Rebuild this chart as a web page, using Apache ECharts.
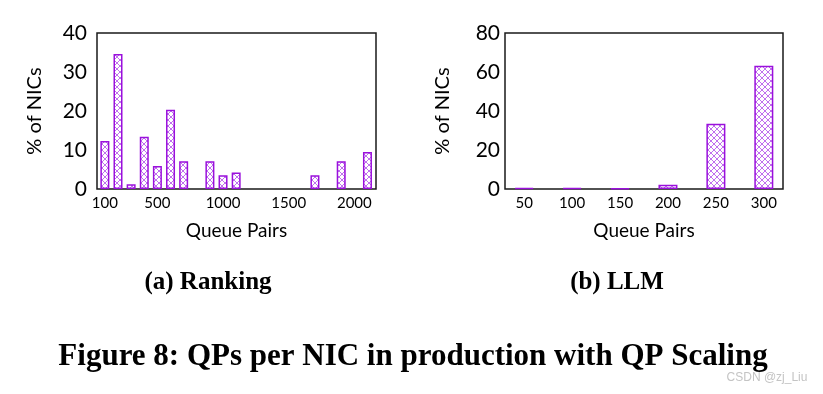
<!DOCTYPE html>
<html>
<head>
<meta charset="utf-8">
<script src="https://cdn.jsdelivr.net/npm/echarts@6/dist/echarts.min.js"></script>
<style>
html,body{margin:0;padding:0;background:#fff;}
#c{width:823px;height:394px;}
</style>
</head>
<body>
<div id="c"></div>
<script>
// Data
const rankingQP = [100, 200, 300, 400, 500, 600, 700, 900, 1000, 1100, 1700, 1900, 2100];
const rankingPct = [12.3, 34.6, 1.2, 13.4, 5.9, 20.3, 7.1, 7.1, 3.5, 4.2, 3.5, 7.1, 9.5];
const rankingTicks = [100, 500, 1000, 1500, 2000];
const llmQP = [50, 100, 150, 200, 250, 300];
const llmPct = [0.5, 0.5, 0.3, 2.2, 33.5, 63.2];
const captionA = '(a) Ranking';
const captionB = '(b) LLM';
const figTitle = 'Figure 8: QPs per NIC in production with QP Scaling';
const watermark = 'CSDN @zj_Liu';

// crosshatch pattern
function hatch() {
  const s = 6;
  const c = document.createElement('canvas');
  c.width = s; c.height = s;
  const g = c.getContext('2d');
  g.fillStyle = '#ffffff';
  g.fillRect(0, 0, s, s);
  g.strokeStyle = '#c070ee';
  g.lineWidth = 1;
  g.beginPath();
  g.moveTo(0, 0); g.lineTo(s, s);
  g.moveTo(s, 0); g.lineTo(0, s);
  g.stroke();
  return c;
}
const pat = { image: hatch(), repeat: 'repeat' };

const chart = echarts.init(document.getElementById('c'), null, { renderer: 'canvas' });
const yLab = { fontFamily: 'Lato', fontSize: 21, color: '#000' };
const xLab = { fontFamily: 'Lato', fontSize: 15, color: '#000', formatter: v => String(v) };

chart.setOption({
  animation: false,
  grid: [
    { left: 97, top: 33, width: 279, height: 156, show: true, borderColor: '#1a1a1a', borderWidth: 1.5, backgroundColor: 'transparent' },
    { left: 505, top: 33, width: 278, height: 156, show: true, borderColor: '#1a1a1a', borderWidth: 1.5, backgroundColor: 'transparent' }
  ],
  xAxis: [
    {
      gridIndex: 0, type: 'value', min: 40, max: 2165,
      axisLine: { show: false }, axisTick: { show: false }, splitLine: { show: false },
      axisLabel: Object.assign({ customValues: rankingTicks, margin: 7 }, xLab),
      name: 'Queue Pairs', nameLocation: 'middle', nameGap: 32,
      nameTextStyle: { fontFamily: 'Lato', fontSize: 19, color: '#000' }
    },
    {
      gridIndex: 1, type: 'value', min: 30, max: 320,
      axisLine: { show: false }, axisTick: { show: false }, splitLine: { show: false },
      axisLabel: Object.assign({ customValues: llmQP, margin: 7 }, xLab),
      name: 'Queue Pairs', nameLocation: 'middle', nameGap: 32,
      nameTextStyle: { fontFamily: 'Lato', fontSize: 19, color: '#000' }
    }
  ],
  yAxis: [
    {
      gridIndex: 0, type: 'value', min: 0, max: 40, interval: 10,
      axisLine: { show: false }, axisTick: { show: false }, splitLine: { show: false },
      axisLabel: Object.assign({ margin: 10 }, yLab),
      name: '% of NICs', nameLocation: 'middle', nameGap: 52,
      nameTextStyle: { fontFamily: 'Lato', fontSize: 20, color: '#000' }
    },
    {
      gridIndex: 1, type: 'value', min: 0, max: 80, interval: 20,
      axisLine: { show: false }, axisTick: { show: false }, splitLine: { show: false },
      axisLabel: Object.assign({ margin: 5 }, yLab),
      name: '% of NICs', nameLocation: 'middle', nameGap: 52,
      nameTextStyle: { fontFamily: 'Lato', fontSize: 20, color: '#000' }
    }
  ],
  series: [
    {
      type: 'bar', xAxisIndex: 0, yAxisIndex: 0, barWidth: 9,
      data: rankingQP.map((q, i) => [q, rankingPct[i]]),
      itemStyle: { color: pat, borderColor: '#9a10dc', borderWidth: 1.5 }
    },
    {
      type: 'bar', xAxisIndex: 1, yAxisIndex: 1, barWidth: 19,
      data: llmQP.map((q, i) => [q, llmPct[i]]),
      itemStyle: { color: pat, borderColor: '#9a10dc', borderWidth: 1.5 }
    }
  ],
  graphic: [
    { type: 'text', style: { text: captionA, x: 208, y: 283, align: 'center', verticalAlign: 'middle', font: 'bold 25px "Liberation Serif"', fill: '#000' } },
    { type: 'text', style: { text: captionB, x: 617, y: 283, align: 'center', verticalAlign: 'middle', font: 'bold 25px "Liberation Serif"', fill: '#000' } },
    { type: 'text', style: { text: figTitle, x: 413, y: 357, align: 'center', verticalAlign: 'middle', font: 'bold 31px "Liberation Serif"', fill: '#000' } },
    { type: 'text', style: { text: watermark, x: 767, y: 378, align: 'center', verticalAlign: 'middle', font: '12px "Liberation Sans"', fill: '#c4c4c4' } }
  ]
});
</script>
</body>
</html>
